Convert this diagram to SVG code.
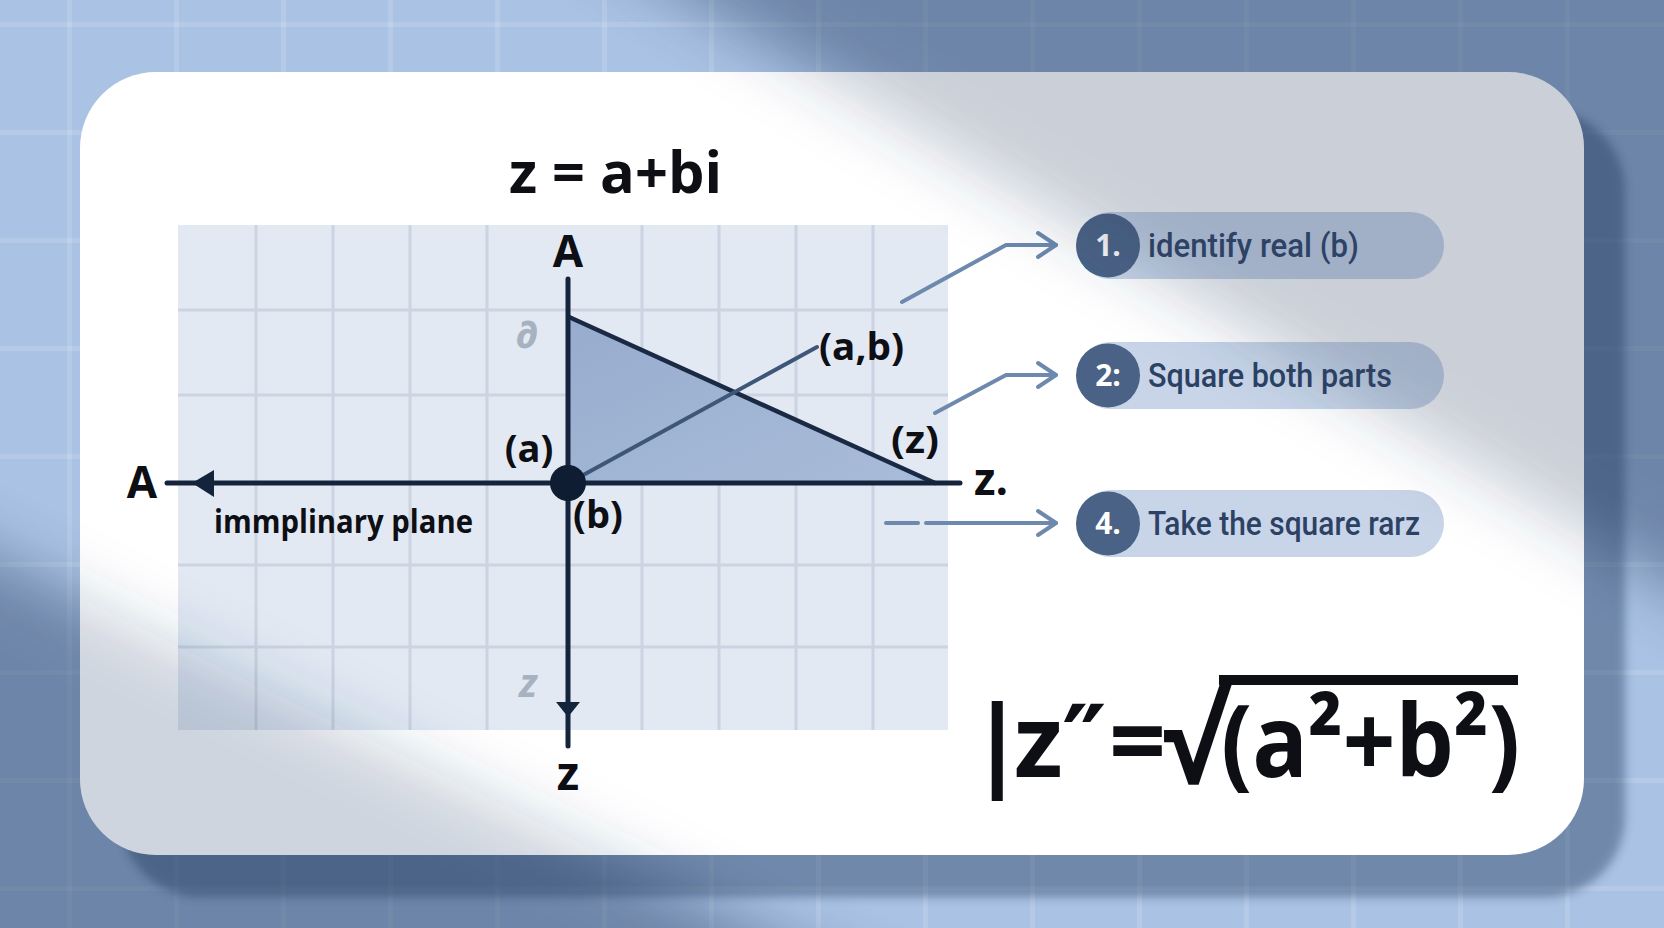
<svg xmlns="http://www.w3.org/2000/svg" width="1664" height="928" viewBox="0 0 1664 928">
<defs>
<style>
.lbl{font-family:"Open Sans","DejaVu Sans",sans-serif;font-weight:700;fill:#0d0f14}
.pilltxt{font-family:Roboto,"Open Sans",sans-serif;font-weight:500;font-size:34px;fill:#2c4163}
.num{font-family:"Open Sans","DejaVu Sans",sans-serif;font-weight:700;font-size:30px;fill:#ffffff}
.pill{fill:#c8d5e8}
.badge{fill:#4a6285}
.grid{stroke:#cbd4e2;stroke-width:3}
.conn{fill:none;stroke:#6d89ad;stroke-width:4;stroke-linecap:round;stroke-linejoin:round}
.axis{stroke:#14243d;stroke-width:5;stroke-linecap:round}
.faint{font-family:"Open Sans","DejaVu Sans",sans-serif;font-weight:700;fill:#a7b2c1}
</style>
<pattern id="tiles" x="-40" y="22" width="107" height="108" patternUnits="userSpaceOnUse">
<rect x="0" y="0" width="107" height="5" fill="#ffffff" opacity="0.13"/>
<rect x="0" y="0" width="5" height="108" fill="#ffffff" opacity="0.13"/>
</pattern>
<filter id="soft" x="-30%" y="-30%" width="160%" height="160%"><feGaussianBlur stdDeviation="32"/></filter>
<filter id="sh" x="-10%" y="-10%" width="120%" height="120%"><feGaussianBlur stdDeviation="5"/></filter>
<clipPath id="cardclip"><rect x="80" y="72" width="1504" height="783" rx="76"/></clipPath>
<linearGradient id="tri" x1="0" y1="0" x2="1" y2="1">
<stop offset="0" stop-color="#97acce"/><stop offset="1" stop-color="#a9bcd9"/>
</linearGradient>
<marker id="chev" markerWidth="24" markerHeight="30" refX="21" refY="15" orient="auto" markerUnits="userSpaceOnUse" viewBox="0 0 24 30">
<path d="M3,3 L21,15 L3,27" fill="none" stroke="#6d89ad" stroke-width="4" stroke-linecap="round" stroke-linejoin="round"/>
</marker>
</defs>

<!-- background -->
<rect x="0" y="0" width="1664" height="928" fill="#aac2e3"/>
<rect x="0" y="0" width="1664" height="928" fill="url(#tiles)"/>
<g filter="url(#soft)" fill="#2a4268" opacity="0.47">
<polygon points="560,-80 1760,-80 1760,640"/>
<polygon points="-80,520 1760,1420 -80,1420"/>
</g>

<!-- card -->
<rect x="120" y="110" width="1505" height="787" rx="80" fill="#1e365a" opacity="0.4" filter="url(#sh)"/>
<rect x="80" y="72" width="1504" height="783" rx="76" fill="#ffffff"/>

<!-- plane panel -->
<g id="plane">
<rect x="178" y="225" width="770" height="505" fill="#e2e9f3"/>
<g class="grid">
<line x1="256" y1="225" x2="256" y2="730"/>
<line x1="333" y1="225" x2="333" y2="730"/>
<line x1="410" y1="225" x2="410" y2="730"/>
<line x1="487" y1="225" x2="487" y2="730"/>
<line x1="642" y1="225" x2="642" y2="730"/>
<line x1="719" y1="225" x2="719" y2="730"/>
<line x1="796" y1="225" x2="796" y2="730"/>
<line x1="873" y1="225" x2="873" y2="730"/>
<line x1="178" y1="310" x2="948" y2="310"/>
<line x1="178" y1="395" x2="948" y2="395"/>
<line x1="178" y1="565" x2="948" y2="565"/>
<line x1="178" y1="647" x2="948" y2="647"/>
</g>
</g>

<g id="triangle">
<polygon points="569,317 569,483 935,483" fill="url(#tri)"/>
<line x1="569" y1="317" x2="935" y2="483" stroke="#1b2a44" stroke-width="4.5" stroke-linecap="round"/>
<line x1="576" y1="479" x2="817" y2="347" stroke="#3e5778" stroke-width="4" stroke-linecap="round"/>
</g>

<g id="axes">
<line class="axis" x1="167" y1="483" x2="960" y2="483"/>
<polygon points="192,483 214,470 214,497" fill="#14243d"/>
<line class="axis" x1="568" y1="279" x2="568" y2="746"/>
<polygon points="568,717 556,702 580,702" fill="#14243d"/>
<circle cx="568" cy="483" r="18" fill="#0f1d33"/>
</g>

<g id="labels">
<text class="lbl" x="509" y="193" font-size="58" textLength="213" lengthAdjust="spacingAndGlyphs">z = a+bi</text>
<text class="lbl" x="568" y="267" font-size="44" text-anchor="middle">A</text>
<text class="lbl" x="142" y="498" font-size="44" text-anchor="middle">A</text>
<text class="lbl" x="529" y="462" font-size="38" text-anchor="middle">(a)</text>
<text class="lbl" x="573" y="528" font-size="38">(b)</text>
<text class="lbl" x="819" y="360" font-size="38" textLength="85" lengthAdjust="spacingAndGlyphs">(a,b)</text>
<text class="lbl" x="891" y="453" font-size="37" textLength="48" lengthAdjust="spacingAndGlyphs">(z)</text>
<text class="lbl" x="974" y="495" font-size="44">z.</text>
<text class="lbl" x="568" y="790" font-size="46" text-anchor="middle">z</text>
<text class="lbl" x="214" y="533" font-size="32" font-weight="600" textLength="259" lengthAdjust="spacingAndGlyphs">immplinary plane</text>
<text class="faint" x="527" y="348" font-size="38" text-anchor="middle">∂</text>
<text class="faint" x="528" y="697" font-size="40" font-style="italic" text-anchor="middle" fill="#b3bdca">z</text>
</g>

<g id="connectors">
<polyline class="conn" points="902,302 1006,245 1056,245" marker-end="url(#chev)"/>
<polyline class="conn" points="935,413 1006,375 1056,375" marker-end="url(#chev)"/>
<line class="conn" x1="886" y1="523" x2="918" y2="523"/>
<line class="conn" x1="926" y1="523" x2="1056" y2="523" marker-end="url(#chev)"/>
</g>

<g id="step1">
<rect class="pill" x="1077" y="212" width="367" height="67" rx="33.5"/>
<circle class="badge" cx="1108" cy="245.5" r="32"/>
<text class="num" x="1108" y="256" text-anchor="middle">1.</text>
<text class="pilltxt" x="1148" y="257" textLength="211" lengthAdjust="spacingAndGlyphs">identify real (b)</text>
</g>
<g id="step2">
<rect class="pill" x="1077" y="342" width="367" height="67" rx="33.5"/>
<circle class="badge" cx="1108" cy="375.5" r="32"/>
<text class="num" x="1108" y="386" text-anchor="middle">2:</text>
<text class="pilltxt" x="1148" y="387" textLength="244" lengthAdjust="spacingAndGlyphs">Square both parts</text>
</g>
<g id="step4">
<rect class="pill" x="1077" y="490" width="367" height="67" rx="33.5"/>
<circle class="badge" cx="1108" cy="523.5" r="32"/>
<text class="num" x="1108" y="534" text-anchor="middle">4.</text>
<text class="pilltxt" x="1148" y="535" textLength="272" lengthAdjust="spacingAndGlyphs">Take the square rarz</text>
</g>

<g id="formula" class="lbl" font-size="100">
<text x="979" y="777" font-family="DejaVu Sans">|</text>
<text x="1014" y="777">z<tspan x="1062" font-family="DejaVu Sans">″</tspan><tspan x="1109">=</tspan></text>
<text x="1162" y="784" font-size="118" textLength="62" lengthAdjust="spacingAndGlyphs">√</text>
<rect x="1219" y="675" width="299" height="10" fill="#0d0f14"/>
<text x="1221" y="777" textLength="299" lengthAdjust="spacingAndGlyphs">(a²+b²)</text>
</g>

<!-- light / shade overlays on card -->
<g clip-path="url(#cardclip)">
<g filter="url(#soft)" fill="#2a4268">
<polygon points="560,-80 1760,-80 1760,640" opacity="0.26"/>
<polygon points="-80,520 1760,1420 -80,1420" opacity="0.22"/>
</g>
</g>
</svg>
